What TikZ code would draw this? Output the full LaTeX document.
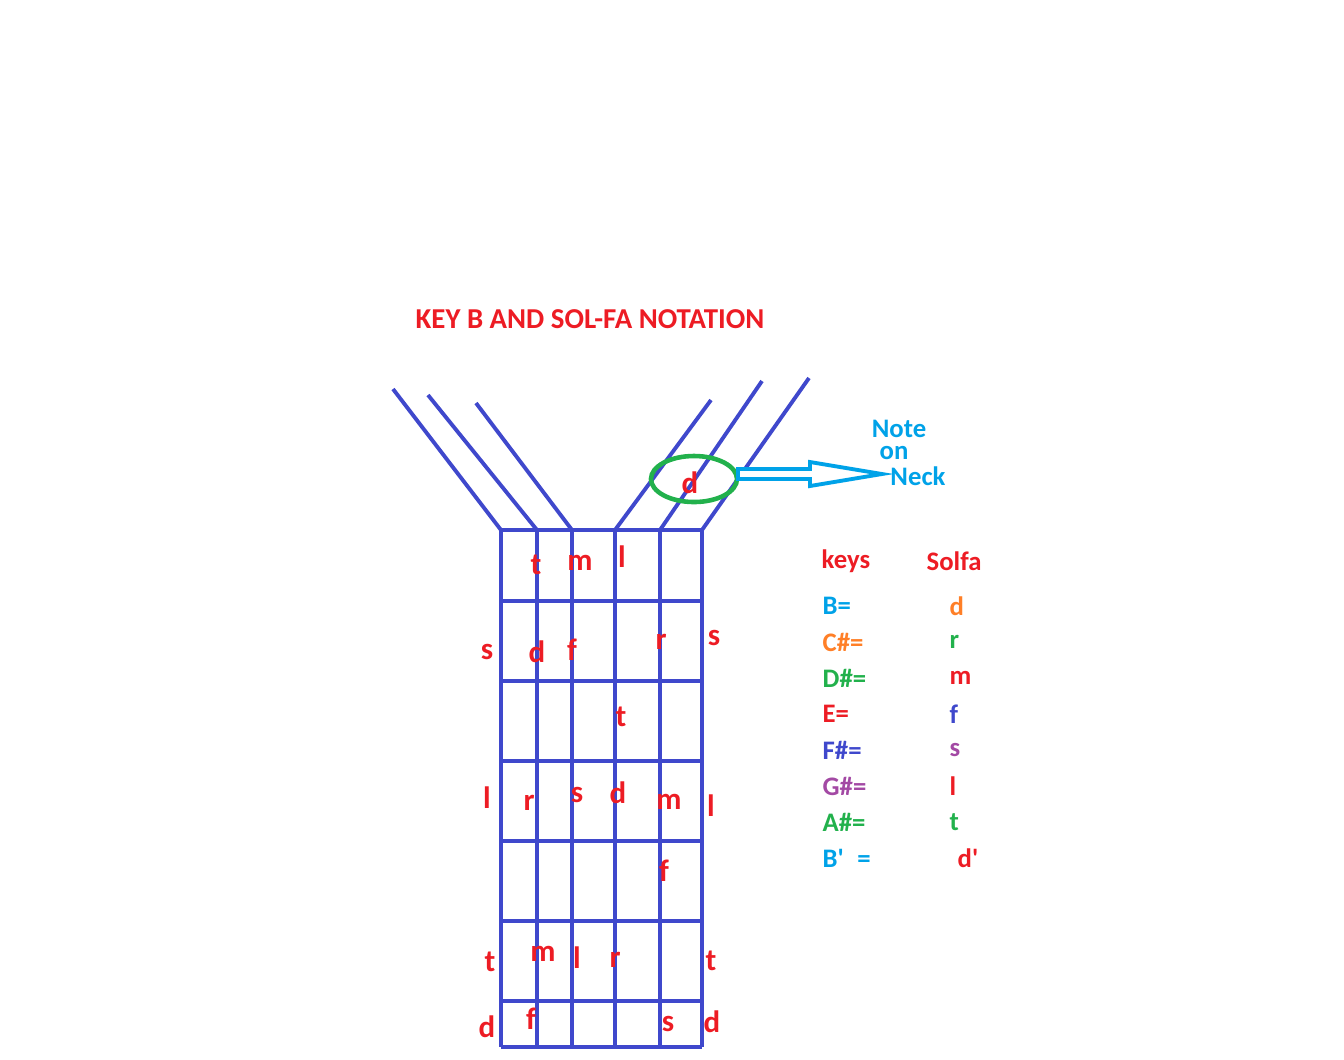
\documentclass[tikz,border=0pt]{standalone}
\usepackage{fontspec}
\setmainfont{Carlito}[Ligatures=TeXOff]
\usetikzlibrary{shapes.geometric}
\definecolor{nb}{RGB}{63,72,204}
\definecolor{rd}{RGB}{237,28,36}
\definecolor{cy}{RGB}{0,162,232}
\definecolor{og}{RGB}{255,127,39}
\definecolor{gr}{RGB}{34,177,76}
\definecolor{pu}{RGB}{163,73,164}
\begin{document}
\begin{tikzpicture}[x=0.01cm,y=-0.01cm,
  nl/.style={text=rd,font=\bfseries\fontsize{8.8}{9}\selectfont,inner sep=0pt},
  lg/.style={font=\bfseries\fontsize{7.6}{8}\selectfont,inner sep=0pt,anchor=west},
  ln/.style={nb,line width=1.1pt}]
\useasboundingbox (0,0) rectangle (1344,1059);
\node[text=rd,font=\bfseries\fontsize{8.2}{8}\selectfont] (title) at (590,319) {KEY B AND SOL-FA NOTATION};
% neck
\foreach \x in {501,537,572,615,660,702} \draw[ln] (\x,530) -- (\x,1047);
\foreach \y in {530,601,681,761,841,921,1001,1047} \draw[ln] (501,\y) -- (702,\y);
\draw[ln] (501,530) -- (393,389);
\draw[ln] (537,530) -- (428,395);
\draw[ln] (572,530) -- (476,403);
\draw[ln] (615,530) -- (711,400);
\draw[ln] (660,530) -- (762,381);
\draw[ln] (702,530) -- (809,378);
\node[draw=gr,line width=1.3pt,ellipse,minimum width=0.86cm,minimum height=0.46cm,inner sep=0] (ell) at (694,479) {};
\node[nl] (dn) at (690,483) {d};
\draw[cy,line width=1.1pt,fill=white] (738,469) -- (810,469) -- (810,462) -- (882,474) -- (810,486) -- (810,479) -- (738,479) -- cycle;
\node[text=cy,lg,anchor=center] (note) at (899,429) {Note};
\node[text=cy,lg,anchor=center] (on) at (894,453) {on};
\node[text=cy,lg,anchor=center] (neck) at (918,476) {Neck};
% neck letters
\foreach \t/\x/\y [count=\i] in {t/536/565,m/580/563,l/622/557,s/487/652,d/537/652,f/572/650,r/661/642,s/714/638,t/621/717,l/487/798,r/529/803,s/577/795,d/618/793,m/669/802,l/711/806,f/664/871,t/490/962,m/543/954,l/577/958,r/615/960,t/711/961,d/487/1027,f/531/1019,s/668/1024,d/712/1022}
  \node[nl] (n\i) at (\x,\y) {\t};
% legend
\node[lg,text=rd] (kh) at (821,561) {keys};
\node[lg,text=rd] (sh) at (926,561) {Solfa};
\foreach \k/\kc/\s/\sc/\y [count=\i] in {B=/cy/d/og/606,C\#=/og/r/gr/642,D\#=/gr/m/rd/678,E=/rd/f/nb/714,F\#=/nb/s/pu/750,G\#=/pu/l/rd/786,A\#=/gr/t/gr/822}{
  \node[lg,text=\kc] (k\i) at (822,\y) {\k};
  \node[lg,text=\sc] (s\i) at (949,\y) {\s};}
\node[lg,text=cy] (k8) at (822,858) {B'\,\,\,=};
\node[lg,text=rd] (s8) at (957,858) {d'};
\end{tikzpicture}
\end{document}
